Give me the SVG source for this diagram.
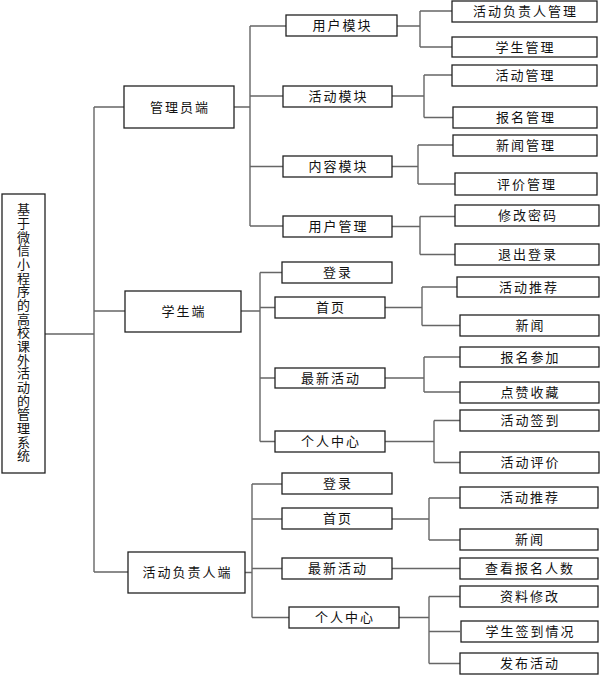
<svg xmlns="http://www.w3.org/2000/svg" width="601" height="676" viewBox="0 0 601 676">
<style>
.b rect{fill:#fff;stroke:#222;stroke-width:1.3}
.b text{font-family:"Noto Sans CJK SC","Liberation Sans",sans-serif;font-size:13px;fill:#111;text-anchor:middle;letter-spacing:2px}
#connectors path{fill:none;stroke:#666;stroke-width:1.4}
</style>
<rect width="601" height="676" fill="#fff"/>
<g id="connectors">
<path d="M45 334H94M94 107V572M94 107H124M94 311H125M94 572H128"/>
<path d="M234 107H250M250 26V226M250 26H286M250 96H283M250 166.5H283M250 226H283"/>
<path d="M397 26H420M420 11V47M420 11H452M420 47H452"/>
<path d="M392 96H424M424 75V117.5M424 75H452M424 117.5H453"/>
<path d="M392 166.5H418M418 145V184M418 145H453M418 184H455"/>
<path d="M392 226.5H420M420 216.5V254.5M420 216.5H455M420 254.5H455"/>
<path d="M241 311H260M260 272.5V441.5M260 272.5H282M260 307.5H275M260 378H275M260 441.5H275"/>
<path d="M385 307.5H422M422 287V325.5M422 287H457M422 325.5H460"/>
<path d="M385 378H424M424 357V392M424 357H460M424 392H460"/>
<path d="M385 441.5H434M434 420.5V462.5M434 420.5H460M434 462.5H460"/>
<path d="M245 572.5H252M252 484V617.5M252 484H282M252 519H282M252 568.5H282M252 617.5H289"/>
<path d="M392 519H429M429 498V540M429 498H460M429 540H460"/>
<path d="M392 568.5H460"/>
<path d="M399 617.5H429M429 596.5V663.5M429 596.5H460M429 631.5H460M429 663.5H460"/>
</g>
<g id="root" class="b"><rect x="2" y="194" width="43" height="279"/>
<text x="23.5" y="203" writing-mode="vertical-rl" style="letter-spacing:0.67px;text-anchor:start">基于微信小程序的高校课外活动的管理系统</text></g>
<g id="admin" class="b"><rect x="124" y="86" width="110" height="42"/><text x="180" y="111.5">管理员端</text></g>
<g id="student" class="b"><rect x="125" y="291" width="116" height="41"/><text x="184" y="316">学生端</text></g>
<g id="leader" class="b"><rect x="128" y="552" width="117" height="41"/><text x="187.5" y="577">活动负责人端</text></g>
<g id="a-user" class="b"><rect x="286" y="15" width="111" height="21"/><text x="342.5" y="30">用户模块</text></g>
<g id="a-act" class="b"><rect x="283" y="86" width="109" height="21"/><text x="338.5" y="101">活动模块</text></g>
<g id="a-content" class="b"><rect x="283" y="156" width="109" height="21"/><text x="338.5" y="171">内容模块</text></g>
<g id="a-usermgr" class="b"><rect x="283" y="216" width="109" height="21"/><text x="338.5" y="231">用户管理</text></g>
<g id="a-leadermgr" class="b"><rect x="452" y="1" width="145" height="21"/><text x="525.5" y="16">活动负责人管理</text></g>
<g id="a-stumgr" class="b"><rect x="452" y="37" width="145" height="20"/><text x="525.5" y="51.5">学生管理</text></g>
<g id="a-actmgr" class="b"><rect x="452" y="65" width="145" height="21"/><text x="525.5" y="80">活动管理</text></g>
<g id="a-regmgr" class="b"><rect x="453" y="107" width="144" height="21"/><text x="526" y="122">报名管理</text></g>
<g id="a-newsmgr" class="b"><rect x="453" y="135" width="144" height="21"/><text x="526" y="150">新闻管理</text></g>
<g id="a-evalmgr" class="b"><rect x="455" y="173" width="142" height="22"/><text x="527" y="188.5">评价管理</text></g>
<g id="a-pwd" class="b"><rect x="455" y="205" width="144" height="21"/><text x="528" y="220">修改密码</text></g>
<g id="a-logout" class="b"><rect x="455" y="244" width="144" height="21"/><text x="528" y="259">退出登录</text></g>
<g id="s-login" class="b"><rect x="282" y="262" width="110" height="21"/><text x="338" y="277">登录</text></g>
<g id="s-home" class="b"><rect x="275" y="297" width="110" height="21"/><text x="331" y="312">首页</text></g>
<g id="s-latest" class="b"><rect x="275" y="368" width="110" height="20"/><text x="331" y="382.5">最新活动</text></g>
<g id="s-center" class="b"><rect x="275" y="431" width="110" height="21"/><text x="331" y="446">个人中心</text></g>
<g id="s-rec" class="b"><rect x="457" y="277" width="142" height="20"/><text x="529" y="291.5">活动推荐</text></g>
<g id="s-news" class="b"><rect x="460" y="315" width="139" height="21"/><text x="530.5" y="330">新闻</text></g>
<g id="s-reg" class="b"><rect x="460" y="347" width="139" height="20"/><text x="530.5" y="361.5">报名参加</text></g>
<g id="s-like" class="b"><rect x="460" y="382" width="139" height="21"/><text x="530.5" y="397">点赞收藏</text></g>
<g id="s-sign" class="b"><rect x="460" y="410" width="139" height="21"/><text x="530.5" y="425">活动签到</text></g>
<g id="s-eval" class="b"><rect x="460" y="452" width="139" height="21"/><text x="530.5" y="467">活动评价</text></g>
<g id="l-login" class="b"><rect x="282" y="473" width="110" height="21"/><text x="338" y="488">登录</text></g>
<g id="l-home" class="b"><rect x="282" y="508" width="110" height="21"/><text x="338" y="523">首页</text></g>
<g id="l-latest" class="b"><rect x="282" y="558" width="110" height="21"/><text x="338" y="573">最新活动</text></g>
<g id="l-center" class="b"><rect x="289" y="607" width="110" height="21"/><text x="345" y="622">个人中心</text></g>
<g id="l-rec" class="b"><rect x="460" y="487" width="138" height="21"/><text x="530" y="502">活动推荐</text></g>
<g id="l-news" class="b"><rect x="460" y="529" width="138" height="21"/><text x="530" y="544">新闻</text></g>
<g id="l-count" class="b"><rect x="460" y="558" width="138" height="21"/><text x="530" y="573">查看报名人数</text></g>
<g id="l-profile" class="b"><rect x="460" y="586" width="138" height="21"/><text x="530" y="601">资料修改</text></g>
<g id="l-stusign" class="b"><rect x="461" y="621" width="137" height="21"/><text x="530.5" y="636">学生签到情况</text></g>
<g id="l-publish" class="b"><rect x="460" y="653" width="138" height="21"/><text x="530" y="668">发布活动</text></g>
</svg>
